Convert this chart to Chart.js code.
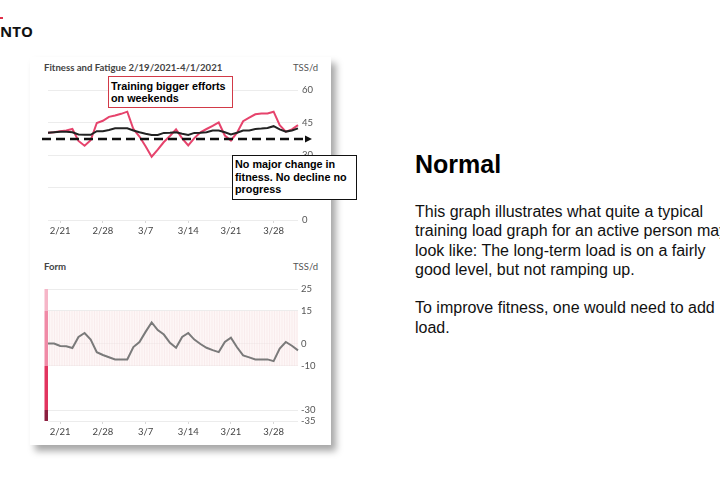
<!DOCTYPE html>
<html>
<head>
<meta charset="utf-8">
<script src="https://cdn.jsdelivr.net/npm/chart.js@4.4.0/dist/chart.umd.min.js"></script>
<style>
body { margin: 0; width: 720px; height: 480px; background: #fff; position: relative; overflow: hidden; font-family: "Liberation Sans", Arial, sans-serif; }
.logo { position: absolute; left: 0; top: 21px; font: bold 15px "Open Sans"; color: #111; }
.logo-dot { position: absolute; left: 0; top: 17px; width: 3px; height: 2px; background: #e0304a; }
.card { position: absolute; left: 30px; top: 57px; width: 301px; height: 388px; background: #fff; box-shadow: 5px 6px 7px rgba(0,0,0,0.35); }
.cap { position: absolute; font: bold 9.6px Lato; color: #444; }
.unit { position: absolute; font: 9.5px Lato; color: #555; }
.box { position: absolute; }
.note { position: absolute; background: #fff; font: bold 10.8px "Liberation Sans"; color: #000; box-sizing: border-box; white-space: nowrap; }
.title { position: absolute; left: 415px; top: 150px; font: bold 25px "Liberation Sans"; color: #000; }
.body { position: absolute; left: 415px; top: 202px; font: 16px "Liberation Sans"; line-height: 19.3px; color: #111; white-space: nowrap; }
</style>
</head>
<body>
<div class="logo-dot"></div>
<div class="logo">NTO</div>
<div class="card"></div>
<div class="cap" style="left:44px;top:62px;">Fitness and Fatigue 2/19/2021-4/1/2021</div>
<div class="unit" style="left:293px;top:62px;">TSS/d</div>
<div class="box" style="left:30px;top:80px;width:301px;height:160px;"><canvas id="loadChart"></canvas></div>
<div class="cap" style="left:44px;top:261px;">Form</div>
<div class="unit" style="left:293px;top:261px;">TSS/d</div>
<div class="box" style="left:30px;top:280px;width:301px;height:161px;"><canvas id="formChart"></canvas></div>
<div class="note" style="left:108px;top:76px;width:125px;height:32px;border:1.5px solid #d23a48;padding:3px 0 0 2px;line-height:12px;">Training bigger efforts<br>on weekends</div>
<div class="note" style="left:232px;top:155px;width:125px;height:45px;border:1.5px solid #111;padding:2px 0 0 2px;line-height:12.5px;">No major change in<br>fitness. No decline no<br>progress</div>
<div class="title">Normal</div>
<div class="body">This graph illustrates what quite a typical<br>training load graph for an active person may<br>look like: The long-term load is on a fairly<br>good level, but not ramping up.<br><br>To improve fitness, one would need to add<br>load.</div>
<script>
const dates = ['2/19', '2/20', '2/21', '2/22', '2/23', '2/24', '2/25', '2/26', '2/27', '2/28',
    '3/1', '3/2', '3/3', '3/4', '3/5', '3/6', '3/7', '3/8', '3/9', '3/10', '3/11', '3/12', '3/13',
    '3/14', '3/15', '3/16', '3/17', '3/18', '3/19', '3/20', '3/21', '3/22', '3/23', '3/24', '3/25',
    '3/26', '3/27', '3/28', '3/29', '3/30', '3/31', '4/1'];
const shownDates = ['2/21', '2/28', '3/7', '3/14', '3/21', '3/28'];

const fatigue = [40.3, 40.5, 41, 41.3, 42, 36.5, 34.3, 36.8, 44.8, 45.8, 47.6, 48.2, 49, 50, 42, 38.5,
    34, 29.2, 32.5, 36, 38.8, 41.8, 37.7, 34.4, 37.8, 40.5, 42, 43.4, 45, 39, 36.7, 40.3, 45.6, 47.2,
    48.8, 49.2, 49.2, 50, 43.8, 40.8, 41.8, 43.8];
const fitness = [40.3, 40.5, 40.7, 40.7, 40.5, 39.5, 39.3, 39.3, 41, 41, 41.5, 42.3, 42.3, 42.3, 41.3,
    40.5, 39.8, 39.2, 39.2, 40.2, 40.3, 40.5, 39.8, 39.2, 40.2, 40.3, 40.5, 41.3, 41.3, 40.5, 39.5, 40.3,
    41.3, 41.3, 42, 42.2, 42.5, 43.3, 41.8, 40.8, 41.3, 42.3];
const fitnessTrend = 37.4;

const form = [0.2, 0.2, -0.9, -1, -1.8, 3.2, 5, 2, -3.7, -5, -6, -7, -7, -7, -1.4, 0.9, 5.5, 9.8, 6.3,
    4.3, 0.5, -1.7, 3.2, 5, 2, 0, -1.7, -2.8, -3.7, 0.9, 2.9, -1.5, -5.2, -6.1, -7, -7, -7, -7.8, -2.1,
    0.9, -0.8, -2.9];
const loadTicks = [0, 15, 30, 45, 60];
const formTicks = [25, 15, 0, -10, -30, -35];
// form zones, top to bottom, for the strip at the left edge
const zoneEdges = [25, 15, -10, -30, -35];
const zoneColors = ['#f6b6c8', '#f08aa6', '#e2345f', '#8c1f40'];

const tickFont = {family: 'Lato', size: 9.5};

function xAxis() {
    return {
        ticks: {
            autoSkip: false, maxRotation: 0, padding: 2, color: '#444', font: tickFont,
            callback: function (v) {
                let label = this.getLabelForValue(v);
                return shownDates.includes(label) ? label : null;
            }
        },
        grid: {drawOnChartArea: false, drawTicks: true, tickLength: 3, color: '#d8d8d8'},
        border: {display: false},
        afterFit: s => { s.height = 20; }
    };
}

const trendArrow = {
    id: 'trendArrow',
    afterDatasetsDraw(chart) {
        let ctx = chart.ctx;
        let area = chart.chartArea;
        let y = chart.scales.y.getPixelForValue(fitnessTrend);
        let x0 = area.left - 6;
        let x1 = area.right + 8;
        ctx.save();
        ctx.strokeStyle = '#111';
        ctx.lineWidth = 2.5;
        ctx.setLineDash([9, 5]);
        ctx.beginPath();
        ctx.moveTo(x0, y);
        ctx.lineTo(x1, y);
        ctx.stroke();
        ctx.setLineDash([]);
        ctx.fillStyle = '#111';
        ctx.beginPath();
        ctx.moveTo(x1 - 1, y - 3.5);
        ctx.lineTo(x1 + 6, y);
        ctx.lineTo(x1 - 1, y + 3.5);
        ctx.closePath();
        ctx.fill();
        ctx.restore();
    }
};

const formZones = {
    id: 'formZones',
    beforeDatasetsDraw(chart) {
        let ctx = chart.ctx;
        let area = chart.chartArea;
        let ys = chart.scales.y;
        let top = ys.getPixelForValue(15);
        let bottom = ys.getPixelForValue(-10);
        ctx.save();
        ctx.fillStyle = 'rgba(252, 240, 240, 0.6)';
        ctx.fillRect(area.left, top, area.right - area.left, bottom - top);
        ctx.strokeStyle = 'rgba(240, 212, 214, 0.35)';
        ctx.lineWidth = 0.8;
        for (let x = area.left + 1.5; x < area.right; x += 2.5) {
            ctx.beginPath();
            ctx.moveTo(x, top);
            ctx.lineTo(x, bottom);
            ctx.stroke();
        }
        for (let i = 0; i < zoneColors.length; i++) {
            let y0 = ys.getPixelForValue(zoneEdges[i]);
            let y1 = ys.getPixelForValue(zoneEdges[i + 1]);
            ctx.fillStyle = zoneColors[i];
            ctx.fillRect(area.left - 3.5, y0, 3.5, y1 - y0);
        }
        ctx.restore();
    }
};

new Chart(document.getElementById('loadChart').getContext('2d'), {
    type: 'line',
    data: {
        labels: dates,
        datasets: [{
            data: fitness, borderColor: '#222', borderWidth: 2, pointRadius: 0, tension: 0
        }, {
            data: fatigue, borderColor: '#e6436c', borderWidth: 2, pointRadius: 0, tension: 0
        }]
    },
    options: {
        responsive: true, maintainAspectRatio: false, animation: false,
        layout: {padding: {left: 18, top: 10, right: 0, bottom: 0}},
        plugins: {legend: {display: false}, tooltip: {enabled: false}},
        scales: {
            x: xAxis(),
            y: {
                position: 'right', min: 0, max: 60,
                afterBuildTicks: s => { s.ticks = loadTicks.map(v => ({value: v})); },
                ticks: {padding: 4, color: '#555', font: tickFont},
                grid: {color: '#ececec', drawTicks: false},
                border: {display: false},
                afterFit: s => { s.width = 33; }
            }
        }
    },
    plugins: [trendArrow]
});

new Chart(document.getElementById('formChart').getContext('2d'), {
    type: 'line',
    data: {
        labels: dates,
        datasets: [{
            data: form, borderColor: '#7a7a7a', borderWidth: 2, pointRadius: 0, tension: 0
        }]
    },
    options: {
        responsive: true, maintainAspectRatio: false, animation: false,
        layout: {padding: {left: 18, top: 9, right: 0, bottom: 0}},
        plugins: {legend: {display: false}, tooltip: {enabled: false}},
        scales: {
            x: xAxis(),
            y: {
                position: 'right', min: -35, max: 25,
                afterBuildTicks: s => { s.ticks = formTicks.map(v => ({value: v})); },
                ticks: {padding: 3, color: '#555', font: tickFont},
                grid: {color: '#ececec', drawTicks: false},
                border: {display: false},
                afterFit: s => { s.width = 33; }
            }
        }
    },
    plugins: [formZones]
});
</script>
</body>
</html>
